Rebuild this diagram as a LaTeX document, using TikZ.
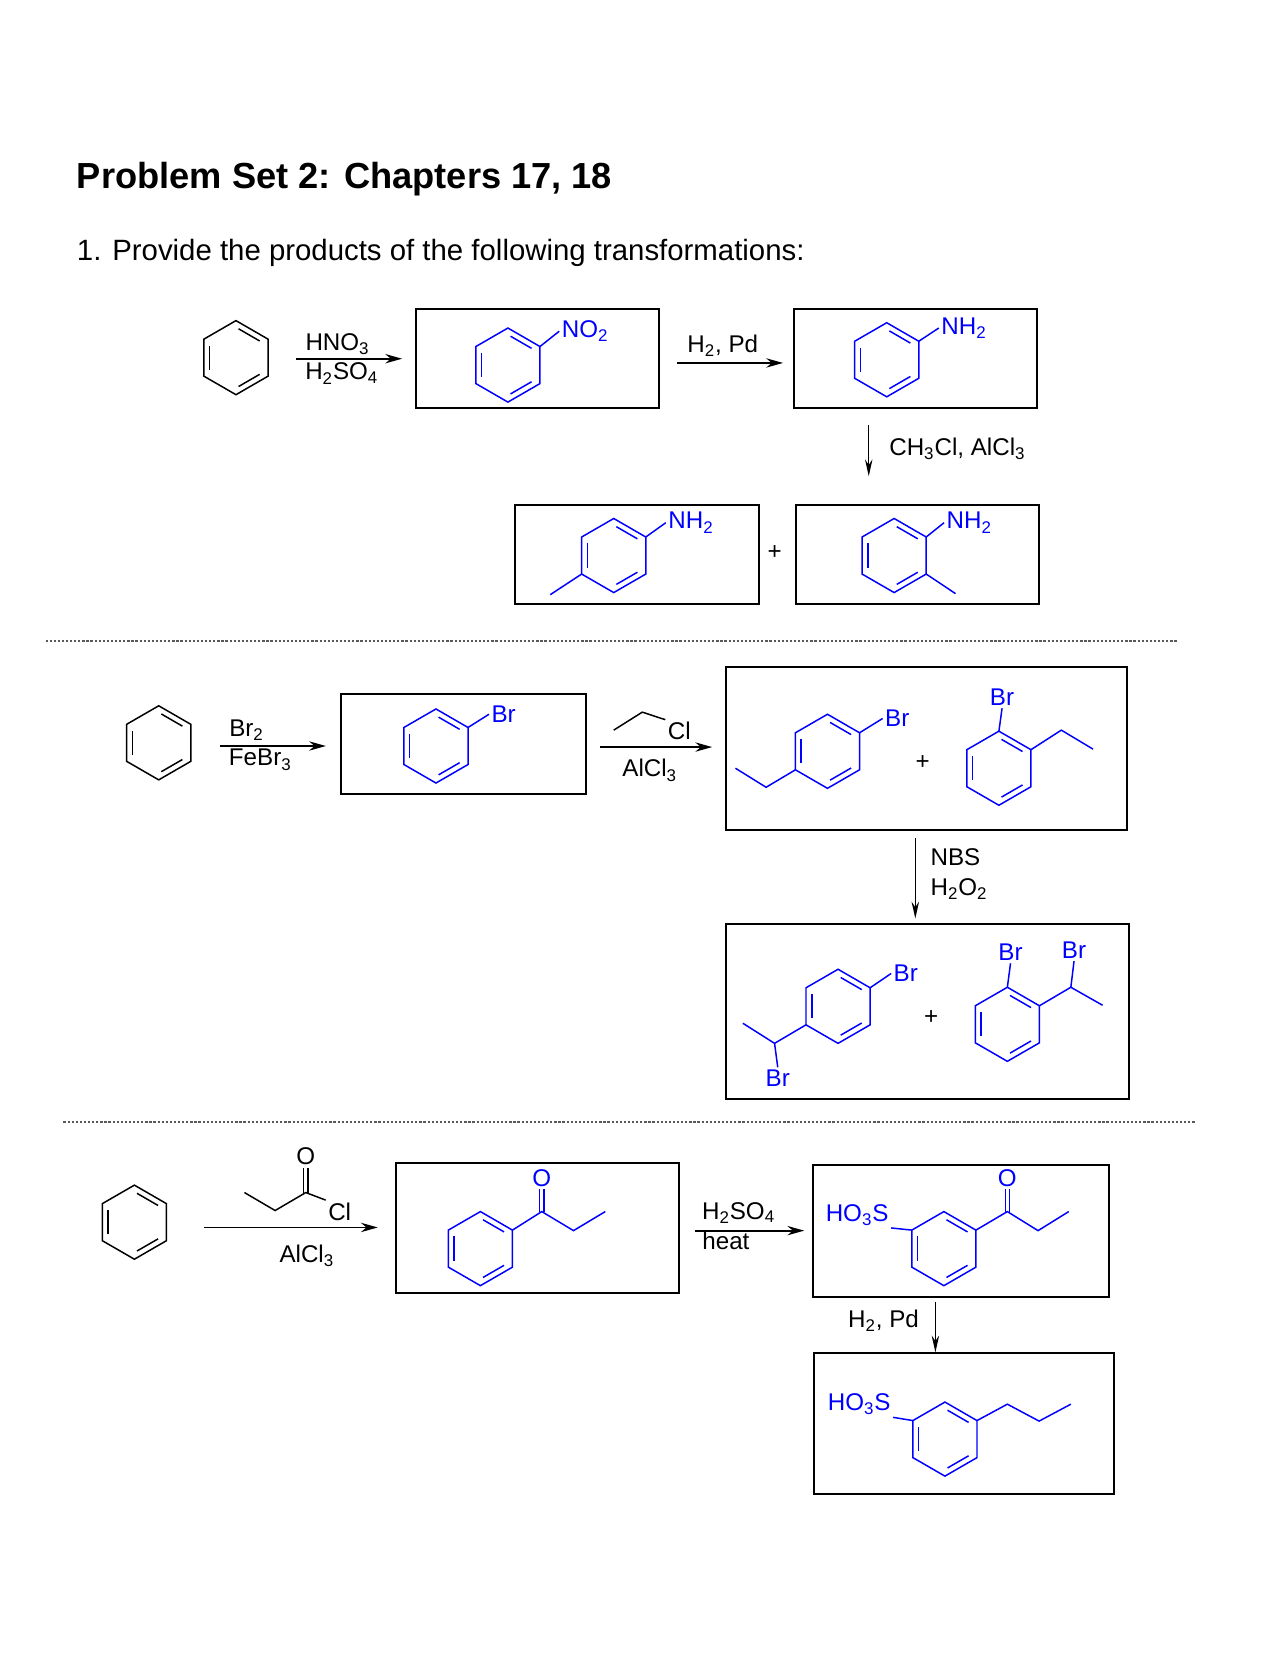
\documentclass[tikz,border=0pt]{standalone}
\usepackage{fontspec}
\setmainfont{Liberation Sans}
\usepackage{tikz}
\usetikzlibrary{calc,arrows.meta}
\tikzset{
  mol/.style={blue,line width=0.8pt},
  prodbox/.style={draw,line width=1.1pt},
  rxn/.style={-{Stealth[length=9pt,width=5pt]},line width=1pt},
  rxnthin/.style={-{Stealth[length=9pt,width=4pt]},line width=0.6pt},
  chem/.style={font=\fontsize{13}{15}\selectfont,inner sep=1pt},
  sep/.style={densely dotted,line width=1.2pt,gray!70!black},
}
% benzene ring: name, x, y (pixels, y downwards)
\newcommand\benz[3]{%
  \coordinate (#1) at (#2,#3);
  \coordinate (#1-1) at (#2,#3-35);
  \coordinate (#1-2) at (#2+30.3,#3-17.5);
  \coordinate (#1-3) at (#2+30.3,#3+17.5);
  \coordinate (#1-4) at (#2,#3+35);
  \coordinate (#1-5) at (#2-30.3,#3+17.5);
  \coordinate (#1-6) at (#2-30.3,#3-17.5);
  \draw (#1-1)--(#1-2)--(#1-3)--(#1-4)--(#1-5)--(#1-6)--cycle;
  \foreach \a/\b in {1/2,3/4,5/6}
    \draw ($($(#1)!0.82!(#1-\a)$)!0.1!($(#1)!0.82!(#1-\b)$)$) -- ($($(#1)!0.82!(#1-\b)$)!0.1!($(#1)!0.82!(#1-\a)$)$);
}
\begin{document}
\begin{tikzpicture}[x=0.02cm,y=-0.02cm,line width=0.8pt]
\useasboundingbox (0,0) rectangle (1210,1565);
\node[anchor=base west,inner sep=0pt,font=\fontsize{19.5}{24}\selectfont\bfseries] (title) at (72,178) {Problem Set 2: Chapters 17, 18};
\node[anchor=base west,inner sep=0pt,font=\fontsize{15.8}{19}\selectfont] (task) at (72,246) {1. Provide the products of the following transformations:};

% ---- row 1
\benz{r1}{223}{338}
\coordinate (a1s) at (280,339); \coordinate (a1e) at (380,339);
\draw[rxn] (a1s) -- (a1e);
\node[chem] (hno) at (319,325) {HNO\textsubscript{3}};
\node[chem] (hso) at (323,353) {H\textsubscript{2}SO\textsubscript{4}};
\node[prodbox,minimum width=230*0.02cm,minimum height=94*0.02cm] (b1) at (508,339) {};
\begin{scope}[mol]
\benz{p1}{480}{345}
\node[chem,blue] (no2) at (553,313) {NO\textsubscript{2}};
\draw (p1-2) -- (no2.west);
\end{scope}
\coordinate (a2s) at (640,343); \coordinate (a2e) at (740,343);
\draw[rxn] (a2s) -- (a2e);
\node[chem] (hpd) at (683,327) {H\textsubscript{2}, Pd};
\node[prodbox,minimum width=230*0.02cm,minimum height=94*0.02cm] (b2) at (865,339) {};
\begin{scope}[mol]
\benz{p2}{838}{340}
\node[chem,blue] (nh1) at (911,310) {NH\textsubscript{2}};
\draw (p2-2) -- (nh1.west);
\end{scope}
\coordinate (a3s) at (821,402); \coordinate (a3e) at (821,450);
\draw[rxnthin] (a3s) -- (a3e);
\node[chem,anchor=west] (mecl) at (838,424) {CH\textsubscript{3}Cl, AlCl\textsubscript{3}};
\node[prodbox,minimum width=230*0.02cm,minimum height=94*0.02cm] (b3) at (602,524) {};
\begin{scope}[mol]
\benz{p3}{580}{525}
\node[chem,blue] (nh2) at (653,494) {NH\textsubscript{2}};
\draw (p3-2) -- (nh2.west);
\coordinate (me1) at (520,562);
\draw (p3-5) -- (me1);
\end{scope}
\node[chem] (plus1) at (732,522) {+};
\node[prodbox,minimum width=230*0.02cm,minimum height=94*0.02cm] (b4) at (867,524) {};
\begin{scope}[mol]
\benz{p4}{845}{525}
\node[chem,blue] (nh3) at (916,494) {NH\textsubscript{2}};
\draw (p4-2) -- (nh3.west);
\coordinate (me2) at (903,561);
\draw (p4-3) -- (me2);
\end{scope}
\draw[sep] (43,606) -- (1112,606);

% ---- row 2
\benz{r2}{150}{702}
\coordinate (a4s) at (208,705); \coordinate (a4e) at (308,705);
\draw[rxn] (a4s) -- (a4e);
\node[chem] (br2) at (233,690) {Br\textsubscript{2}};
\node[chem] (febr) at (246,718) {FeBr\textsubscript{3}};
\node[prodbox,minimum width=232*0.02cm,minimum height=94*0.02cm] (b5) at (438,703) {};
\begin{scope}[mol]
\benz{p5}{412}{705}
\node[chem,blue] (br5) at (476,675) {Br};
\draw (p5-2) -- (br5.west);
\end{scope}
\coordinate (a5s) at (567,706); \coordinate (a5e) at (673,706);
\draw[rxn] (a5s) -- (a5e);
\node[chem] (cl1) at (642,691) {Cl};
\draw (580,690) -- (607,673) -- (cl1.north west);
\node[chem] (alc1) at (614,728) {AlCl\textsubscript{3}};
\node[prodbox,minimum width=379*0.02cm,minimum height=154*0.02cm] (b6) at (875.5,707) {};
\begin{scope}[mol]
\benz{p6}{782}{710}
\node[chem,blue] (br6) at (848,679) {Br};
\draw (p6-2) -- (br6.west);
\draw (p6-5) -- (724,744) -- (695,726);
\benz{p7}{944}{726}
\node[chem,blue] (br7) at (947,659) {Br};
\draw (p7-1) -- (br7.south);
\draw (p7-2) -- (1003,690) -- (1033,708);
\end{scope}
\node[chem] (plus2) at (872,721) {+};
\coordinate (a6s) at (865,792); \coordinate (a6e) at (865,868);
\draw[rxnthin] (a6s) -- (a6e);
\node[chem,anchor=west] (nbs) at (877,810) {NBS};
\node[chem,anchor=west] (hoo) at (877,840) {H\textsubscript{2}O\textsubscript{2}};
\node[prodbox,minimum width=381*0.02cm,minimum height=166*0.02cm] (b7) at (876.5,956) {};
\begin{scope}[mol]
\benz{p8}{792}{951}
\node[chem,blue] (br8) at (856,920) {Br};
\draw (p8-2) -- (br8.west);
\coordinate (ch1) at (732,986);
\node[chem,blue] (br9) at (735,1019) {Br};
\draw (p8-5) -- (ch1) -- (702,967);
\draw (ch1) -- (br9.north);
\benz{p9}{952}{968}
\node[chem,blue] (br10) at (955,900) {Br};
\draw (p9-1) -- (br10.south);
\coordinate (ch2) at (1012,933);
\draw (p9-2) -- (ch2) -- (1042,950);
\node[chem,blue] (br11) at (1015,898) {Br};
\draw (ch2) -- (br11.south);
\end{scope}
\node[chem] (plus3) at (880,962) {+};
\draw[sep] (60,1060) -- (1130,1060);

% ---- row 3
\benz{r3}{127}{1155}
\coordinate (a7s) at (193,1160); \coordinate (a7e) at (357,1160);
\draw[rxn] (a7s) -- (a7e);
\node[chem] (ox1) at (289,1093) {O};
\node[chem] (cl2) at (321,1145) {Cl};
\coordinate (co1) at (289,1127);
\draw (231,1127) -- (260,1144) -- (co1) -- (cl2.north west);
\draw ($(co1)+(-2,0)$) -- ($(ox1.south)+(-2,0)$);
\draw ($(co1)+(2,0)$) -- ($(ox1.south)+(2,0)$);
\node[chem] (alc2) at (290,1187) {AlCl\textsubscript{3}};
\node[prodbox,minimum width=268*0.02cm,minimum height=123*0.02cm] (b8) at (508,1160.5) {};
\begin{scope}[mol]
\benz{p10}{454}{1180}
\coordinate (co2) at (512,1145);
\node[chem,blue] (ox2) at (512,1113) {O};
\draw (p10-2) -- (co2) -- (542,1163) -- (572,1145);
\draw ($(co2)+(-2,0)$) -- ($(ox2.south)+(-2,0)$);
\draw ($(co2)+(2,0)$) -- ($(ox2.south)+(2,0)$);
\end{scope}
\coordinate (a8s) at (657,1163); \coordinate (a8e) at (760,1163);
\draw[rxn] (a8s) -- (a8e);
\node[chem] (hso2) at (698,1146) {H\textsubscript{2}SO\textsubscript{4}};
\node[chem] (heat) at (686,1173) {heat};
\node[prodbox,minimum width=280*0.02cm,minimum height=125*0.02cm] (b9) at (908,1163.5) {};
\begin{scope}[mol]
\benz{p11}{892}{1180}
\node[chem,blue] (so1) at (810,1148) {HO\textsubscript{3}S};
\draw (p11-6) -- (so1.south east);
\coordinate (co3) at (952,1145);
\node[chem,blue] (ox3) at (952,1113) {O};
\draw (p11-2) -- (co3) -- (981,1163) -- (1010,1145);
\draw ($(co3)+(-2,0)$) -- ($(ox3.south)+(-2,0)$);
\draw ($(co3)+(2,0)$) -- ($(ox3.south)+(2,0)$);
\end{scope}
\coordinate (a9s) at (884,1230); \coordinate (a9e) at (884,1278);
\draw[rxnthin] (a9s) -- (a9e);
\node[chem] (hpd2) at (835,1248) {H\textsubscript{2}, Pd};
\node[prodbox,minimum width=284*0.02cm,minimum height=133*0.02cm] (b10) at (911,1345.5) {};
\begin{scope}[mol]
\benz{p12}{893}{1360}
\node[chem,blue] (so2) at (812,1327) {HO\textsubscript{3}S};
\draw (p12-6) -- (so2.south east);
\draw (p12-2) -- (952,1327) -- (982,1343) -- (1012,1327);
\end{scope}
\end{tikzpicture}
\end{document}
